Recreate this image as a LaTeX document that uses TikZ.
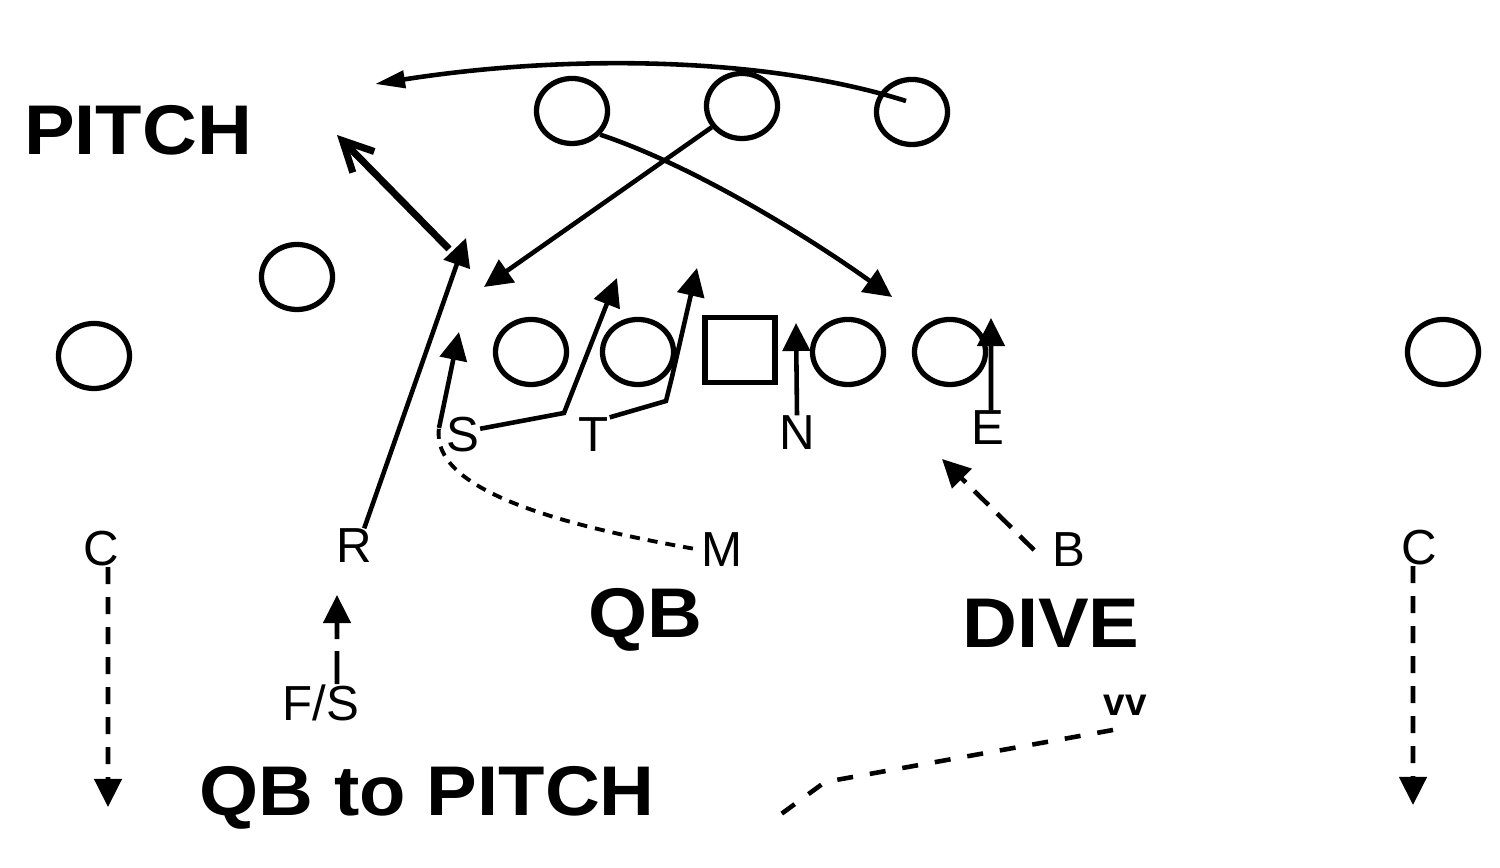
\documentclass[tikz,border=0pt]{standalone}
\usepackage{fontspec}
\setmainfont{Liberation Sans}
\newfontfamily\widefont{Liberation Sans}[FakeStretch=1.08]
\usetikzlibrary{shapes.geometric,arrows.meta}

\begin{document}
\begin{tikzpicture}[x=0.01cm, y=-0.01cm,
  player/.style={ellipse, draw=black, line width=1.5pt, minimum width=0.71cm, minimum height=0.65cm, inner sep=0pt},
  snapbox/.style={rectangle, draw=black, line width=1.5pt, minimum width=0.70cm, minimum height=0.65cm, inner sep=0pt},
  tag/.style={inner sep=0pt, font=\fontsize{14}{16}\selectfont},
  bigtag/.style={inner sep=0pt, font=\widefont\fontsize{20}{22}\selectfont\bfseries},
  route/.style={line width=1.3pt, -{Triangle[length=0.28cm, width=0.27cm]}},
  fakeroute/.style={route, dash pattern=on 0.2cm off 0.12cm},
  sweep/.style={line width=1.3pt, -{Triangle[length=0.3cm, width=0.17cm]}},
  pitchline/.style={line width=2pt, -{Straight Barb[length=0.3cm, width=0.3cm]}}]

\useasboundingbox (0,0) rectangle (1500,868);

\node[player] (top1) at (572,111) {};
\node[player] (top2) at (742,106) {};
\node[player] (top3) at (912,112) {};
\node[player] (wing1) at (297,277) {};
\node[player] (wing2) at (94,356) {};
\node[player] (g1) at (531,352) {};
\node[player] (g2) at (638,352) {};
\node[snapbox] (sq) at (740,350) {};
\node[player] (g3) at (848,352) {};
\node[player] (g4) at (950,352) {};
\node[player] (wing3) at (1443,352) {};

\node[bigtag] (pitch) at (138,130) {PITCH};
\node[bigtag] (qb) at (645,620) {QB};
\node[bigtag] (dive) at (1051,623) {DIVE};
\node[bigtag] (qbpitch) at (427,798) {QB to PITCH};

\node[tag] (S) at (463,435) {S};
\node[tag] (T) at (594,435) {T};
\node[tag] (N) at (797,433) {N};
\node[tag] (E) at (988,428) {E};
\node[tag] (M) at (722,550) {M};
\node[tag] (B) at (1069,550) {B};
\node[tag] (R) at (354,546) {R};
\node[tag] (CL) at (101,549) {C};
\node[tag] (CR) at (1419,548) {C};
\node[tag] (FS) at (321,703) {F/S};
\node[inner sep=0pt, font=\fontsize{11}{13}\selectfont\bfseries] (vv) at (1125,705) {vv};

\coordinate (sweepStart) at (906,101);
\coordinate (sweepTip) at (375,84);
\draw[sweep] (sweepStart) .. controls (760,55) and (560,55) .. (sweepTip);

\coordinate (pitchTail) at (449,249);
\coordinate (pitchTip) at (337,135);
\draw[pitchline] (pitchTail) -- (pitchTip);

\coordinate (rTip) at (466,238);
\draw[route] (R.60) -- (rTip);

\coordinate (dropTip) at (484,287);
\draw[route] (top2) -- (dropTip);

\coordinate (crossTip) at (892,297);
\draw[route] (top1.-40) .. controls (700,168) and (820,245) .. (crossTip);

\coordinate (sBend) at (439,428);
\coordinate (sTip) at (459,332);
\draw[line width=1.1pt, dash pattern=on 0.1cm off 0.08cm, shorten <=0.08cm] (M.west) .. controls (560,525) and (430,490) .. (sBend);
\draw[route] (sBend) -- (sTip);

\coordinate (sKnee) at (564,413);
\coordinate (sTip2) at (617,278);
\draw[route] (S.20) -- (sKnee) -- (sTip2);

\coordinate (tKnee1) at (666,401);
\coordinate (tKnee2) at (672,377);
\coordinate (tTip) at (697,268);
\draw[route] (T.north east) -- (tKnee1) -- (tKnee2) -- (tTip);

\coordinate (nTip) at (796,323);
\draw[route] (N.north) -- (nTip);

\coordinate (eTip) at (991,318);
\draw[route] ([xshift=0.03cm]E.north) -- (eTip);

\coordinate (bTip) at (942,459);
\draw[fakeroute, shorten <=0.25cm] (B.south west) -- (bTip);

\coordinate (trailStart) at (1113,730);
\coordinate (trailKnee) at (825,782);
\coordinate (trailEnd) at (773,820);
\draw[line width=1.3pt, dash pattern=on 0.16cm off 0.17cm] (trailStart) -- (trailKnee) -- (trailEnd);

\coordinate (cLTip) at (108,807);
\draw[route, dash pattern=on 0.17cm off 0.13cm] ([xshift=0.07cm]CL.south) -- (cLTip);

\coordinate (cRTip) at (1413,805);
\draw[route, dash pattern=on 0.17cm off 0.13cm] ([xshift=-0.06cm]CR.south) -- (cRTip);

\coordinate (fsTip) at (337,595);
\draw[route, dash pattern=on 0.33cm off 0.12cm] ([xshift=0.16cm]FS.north) -- (fsTip);

\end{tikzpicture}
\end{document}
